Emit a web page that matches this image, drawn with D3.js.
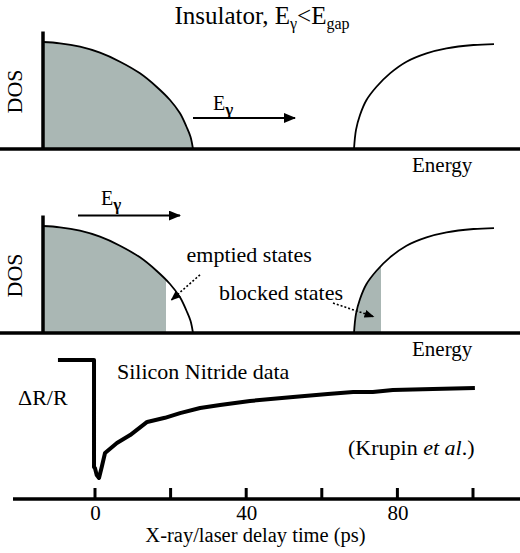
<!DOCTYPE html>
<html>
<head>
<meta charset="utf-8">
<script src="https://cdn.jsdelivr.net/npm/d3@7"></script>
<style>
  body { margin: 0; background: #fff; }
  text { font-family: "Liberation Serif", "Times New Roman", serif; fill: #000; }
</style>
</head>
<body>
<div id="chart"></div>
<script>
// density of states (energy in arbitrary eV-like units, dos normalised)
let vbEnergy = [-3, -2.66, -2.26, -1.86, -1.46, -1.06, -0.73, -0.46, -0.26, -0.13, -0.05, 0];
let vbDos    = [1, 0.988, 0.956, 0.9, 0.816, 0.707, 0.582, 0.458, 0.334, 0.208, 0.115, 0];
let cbEnergy = [3.22, 3.26, 3.34, 3.47, 3.67, 3.94, 4.27, 4.67, 5.07, 5.61, 6.02];
let cbDos    = [0, 0.178, 0.318, 0.458, 0.582, 0.707, 0.816, 0.894, 0.941, 0.972, 0.981];
let photonEnergy = 2.04;   // length of the E_gamma arrow
let emptiedDown = -0.54;   // filled valence states stop here (middle panel)
let blockedUp = 3.76;      // filled conduction states reach here (middle panel)

// Silicon nitride reflectivity trace
let delay = [-9.8, -0.26, -0.26, 0, 0.45, 1.06, 1.8, 2.65, 5.8, 9.3, 13.8, 18.5, 22.5, 27.8, 33.1, 41, 52.4, 61.6, 68.3, 73.5, 78.8, 89.4, 100.5];
let dR    = [0, 0, -0.907, -0.918, -0.975, -1, -0.904, -0.788, -0.703, -0.636, -0.525, -0.49, -0.45, -0.407, -0.381, -0.347, -0.314, -0.288, -0.271, -0.271, -0.254, -0.246, -0.237];
let tickValues = [0, 20, 40, 60, 80, 100];
let tickLabels = ['0', '', '40', '', '80', ''];

let w = 520;
let h = 553;
let gray = '#aab7b4';

let svg = d3.select('#chart')
  .append('svg')
  .attr('width', w)
  .attr('height', h);

let defs = svg.append('defs');
defs.append('marker')
  .attr('id', 'head')
  .attr('viewBox', '0 0 12 10')
  .attr('refX', 11).attr('refY', 5)
  .attr('markerWidth', 12).attr('markerHeight', 10)
  .attr('markerUnits', 'userSpaceOnUse')
  .attr('orient', 'auto')
  .append('path').attr('d', 'M0,0L12,5L0,10Z');
defs.append('marker')
  .attr('id', 'smallhead')
  .attr('viewBox', '0 0 10 8')
  .attr('refX', 9).attr('refY', 4)
  .attr('markerWidth', 10).attr('markerHeight', 8)
  .attr('markerUnits', 'userSpaceOnUse')
  .attr('orient', 'auto')
  .append('path').attr('d', 'M0,0L10,4L0,8Z');

let x = d3.scaleLinear().domain([-3, 6]).range([43, 493]);

let vb = vbEnergy.map((e, i) => ({e: e, d: vbDos[i]}));
let cb = cbEnergy.map((e, i) => ({e: e, d: cbDos[i]}));

function dosPanel(id, y, axisTop, clipV, clipC) {
  let g = svg.append('g').attr('id', id);
  let area = d3.area().x(d => x(d.e)).y0(y(0)).y1(d => y(d.d)).curve(d3.curveCatmullRom);
  let line = d3.line().x(d => x(d.e)).y(d => y(d.d)).curve(d3.curveCatmullRom);

  // clip the shading to the occupied energy ranges
  if (clipV !== null) {
    defs.append('clipPath').attr('id', id + '-cv')
      .append('rect')
      .attr('x', x(-3)).attr('y', 0)
      .attr('width', x(clipV) - x(-3)).attr('height', h);
    g.append('path').datum(vb)
      .attr('d', area).attr('fill', gray)
      .attr('clip-path', 'url(#' + id + '-cv)');
  }
  if (clipC !== null) {
    defs.append('clipPath').attr('id', id + '-cc')
      .append('rect')
      .attr('x', x(cbEnergy[0])).attr('y', 0)
      .attr('width', x(clipC) - x(cbEnergy[0])).attr('height', h);
    g.append('path').datum(cb)
      .attr('d', area).attr('fill', gray)
      .attr('clip-path', 'url(#' + id + '-cc)');
  }

  g.append('path').datum(vb).attr('d', line)
    .attr('fill', 'none').attr('stroke', '#000').attr('stroke-width', 1.8);
  g.append('path').datum(cb).attr('d', line)
    .attr('fill', 'none').attr('stroke', '#000').attr('stroke-width', 1.8);

  // axes
  g.append('line')
    .attr('x1', 0).attr('x2', w)
    .attr('y1', y(0)).attr('y2', y(0))
    .attr('stroke', '#000').attr('stroke-width', 3.5);
  g.append('line')
    .attr('x1', x(-3)).attr('x2', x(-3))
    .attr('y1', axisTop).attr('y2', y(0))
    .attr('stroke', '#000').attr('stroke-width', 3.5);

  g.append('text')
    .text('DOS')
    .attr('text-anchor', 'middle')
    .attr('font-size', 22)
    .attr('transform', 'translate(21.5,' + (y(0) - 57.5) + ') rotate(-90)');
  g.append('text')
    .text('Energy')
    .attr('x', 412).attr('y', y(0) + 22.5)
    .attr('font-size', 21);
  return g;
}

function egammaLabel(g, xx, yy) {
  let t = g.append('text').attr('x', xx).attr('y', yy).attr('font-size', 20);
  t.append('tspan').text('E');
  t.append('tspan').text('γ').attr('font-size', 17).attr('font-weight', 'bold').attr('dy', 5);
}

// ---- top panel: insulator ----
let yTop = d3.scaleLinear().domain([0, 1]).range([149, 42]);
let topG = dosPanel('top', yTop, 31.5, 0, null);

let title = svg.append('text')
  .attr('x', 262).attr('y', 23.5)
  .attr('text-anchor', 'middle')
  .attr('font-size', 25);
title.append('tspan').text('Insulator, E');
title.append('tspan').text('γ').attr('font-size', 16).attr('dy', 5);
title.append('tspan').text('<E').attr('dy', -5);
title.append('tspan').text('gap').attr('font-size', 16).attr('dy', 5);

topG.append('line')
  .attr('x1', x(0)).attr('x2', x(photonEnergy))
  .attr('y1', yTop(0.29)).attr('y2', yTop(0.29))
  .attr('stroke', '#000').attr('stroke-width', 2)
  .attr('marker-end', 'url(#head)');
egammaLabel(topG, 213, 110);

// ---- middle panel: after excitation ----
let yMid = d3.scaleLinear().domain([0, 1]).range([333, 226]);
let midG = dosPanel('mid', yMid, 215.5, emptiedDown, blockedUp);

let arrowStart = -2.3;
midG.append('line')
  .attr('x1', x(arrowStart)).attr('x2', x(arrowStart + photonEnergy))
  .attr('y1', yMid(1.097)).attr('y2', yMid(1.097))
  .attr('stroke', '#000').attr('stroke-width', 2)
  .attr('marker-end', 'url(#head)');
egammaLabel(midG, 101, 205);

midG.append('text').text('emptied states')
  .attr('x', 186.5).attr('y', 261.5).attr('font-size', 22);
midG.append('text').text('blocked states')
  .attr('x', 219).attr('y', 300).attr('font-size', 22);

// dotted pointers [energy, dos] from -> to
let pointers = [[[0.14, 0.544], [-0.43, 0.31]], [[2.8, 0.28], [3.61, 0.153]]];
midG.selectAll('.pointer')
  .data(pointers)
  .enter()
  .append('line')
  .attr('class', 'pointer')
  .attr('x1', d => x(d[0][0])).attr('y1', d => yMid(d[0][1]))
  .attr('x2', d => x(d[1][0])).attr('y2', d => yMid(d[1][1]))
  .attr('stroke', '#000').attr('stroke-width', 1.6)
  .attr('stroke-dasharray', '2,2')
  .attr('marker-end', 'url(#smallhead)');

// ---- bottom panel: reflectivity data ----
let xT = d3.scaleLinear().domain([0, 100]).range([95, 473]);
let yR = d3.scaleLinear().domain([-1, 0]).range([478, 360]);
let axisY = 499;

let trace = delay.map((t, i) => ({t: t, v: dR[i]}));
svg.append('path').datum(trace)
  .attr('d', d3.line().x(d => xT(d.t)).y(d => yR(d.v)))
  .attr('fill', 'none')
  .attr('stroke', '#000')
  .attr('stroke-width', 4)
  .attr('stroke-linejoin', 'round');

// labels from the axis generator, tick marks drawn upward by hand
let xAxis = d3.axisBottom(xT)
  .tickValues(tickValues)
  .tickSize(0)
  .tickPadding(6)
  .tickFormat((d, i) => tickLabels[i]);

let ax = svg.append('g')
  .attr('id', 'x-axis')
  .attr('transform', 'translate(0,' + axisY + ')')
  .call(xAxis);
ax.select('.domain').remove();
ax.selectAll('.tick text')
  .attr('font-size', 21)
  .attr('fill', '#000')
  .style('font-family', '"Liberation Serif", "Times New Roman", serif');

svg.selectAll('.uptick')
  .data(tickValues)
  .enter()
  .append('line')
  .attr('class', 'uptick')
  .attr('x1', d => xT(d)).attr('x2', d => xT(d))
  .attr('y1', axisY - 11).attr('y2', axisY)
  .attr('stroke', '#000').attr('stroke-width', 3);

svg.append('line')
  .attr('x1', 13).attr('x2', w)
  .attr('y1', axisY).attr('y2', axisY)
  .attr('stroke', '#000').attr('stroke-width', 3.5);

svg.append('text').text('X-ray/laser delay time (ps)')
  .attr('x', 255.5).attr('y', 542)
  .attr('text-anchor', 'middle')
  .attr('font-size', 20.5);

svg.append('text').text('Silicon Nitride data')
  .attr('x', 117).attr('y', 379).attr('font-size', 22);
svg.append('text').text('ΔR/R')
  .attr('x', 18).attr('y', 405).attr('font-size', 22);

let kr = svg.append('text').attr('x', 348).attr('y', 455).attr('font-size', 22);
kr.append('tspan').text('(Krupin ');
kr.append('tspan').text('et al').attr('font-style', 'italic');
kr.append('tspan').text('.)');
</script>
</body>
</html>
